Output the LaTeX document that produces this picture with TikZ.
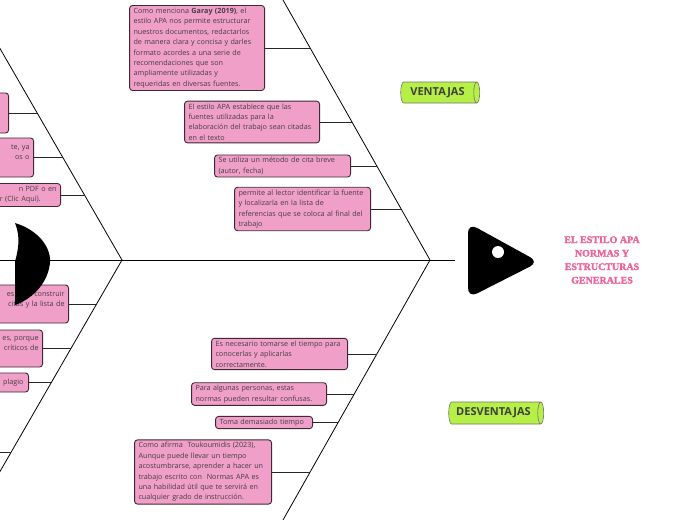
\documentclass[tikz,border=0pt]{standalone}
\usepackage{fontspec}
\setmainfont{Open Sans}
\newfontfamily\titlefont{Liberation Serif Bold}[FakeBold=2]
\usepackage{tikz}
\usetikzlibrary{shapes.geometric}

\definecolor{boxpink}{RGB}{240,160,200}
\definecolor{boxline}{RGB}{65,40,50}
\definecolor{limegreen}{RGB}{182,240,70}
\definecolor{titlepink}{RGB}{236,100,152}
\definecolor{txtgray}{RGB}{70,60,65}

\tikzset{
  idea/.style={draw=boxline, fill=boxpink, rounded corners=3pt, line width=0.9pt,
    align=left, text=txtgray, font=\fontsize{7.2}{10.4}\selectfont,
    inner xsep=4pt, inner ysep=2.5pt, anchor=east},
  bone/.style={line width=0.8pt},
  twig/.style={line width=0.9pt, black!85},
  tag/.style={cylinder, shape border rotate=0, aspect=0.35, draw=black!55,
    fill=limegreen, text=black!75, font=\bfseries\fontsize{11}{12}\selectfont,
    line width=0.6pt, inner xsep=3pt}
}

\begin{document}
\begin{tikzpicture}[x=1pt,y=-1pt]
\useasboundingbox (0,0) rectangle (697,520);
\clip (0,0) rectangle (697,520);

% spine and bones
\coordinate (vR) at (430,260);
\coordinate (tR) at (283,0);
\coordinate (bR) at (283,520);
\coordinate (vL) at (122,260);
\coordinate (tL) at (-28,0);
\coordinate (bL) at (-28,520);
\coordinate (tail) at (-5,260);
\coordinate (neck) at (455,260);
\draw[bone] (tail) -- (neck);
\draw[bone] (tR) -- (vR) -- (bR);
\draw[bone] (tL) -- (vL) -- (bL);

% head
\fill[rounded corners=10pt] (468,223) -- (539,262) -- (468,298) -- cycle;
\fill[white] (498,252) circle (6);
\node[font=\titlefont\fontsize{10}{13.5}\selectfont, text=titlepink,
  align=center] (title) at (602,260) {EL ESTILO APA\\NORMAS Y\\ESTRUCTURAS\\GENERALES};

\node[tag, minimum width=21pt, minimum height=79pt] (ven) at (437.5,92.5) {VENTAJAS};
\node[tag, minimum width=22pt, minimum height=95pt] (des) at (493.5,413) {DESVENTAJAS};

% ventajas
\node[idea, text width=127pt] (g1) at (265,48) {Como menciona \textbf{Garay (2019)}, el\\estilo APA nos permite estructurar\\nuestros documentos, redactarlos\\de manera clara y concisa y darles\\formato acordes a una serie de\\recomendaciones que son\\ampliamente utilizadas y\\requeridas en diversas fuentes.};
\node[idea, text width=127pt] (g2) at (320,122) {El estilo APA establece que las\\fuentes utilizadas para la\\elaboración del trabajo sean citadas\\en el texto};
\node[idea, text width=128pt] (g3) at (351,166) {Se utiliza un método de cita breve\\(autor, fecha)};
\node[idea, text width=128pt] (g4) at (371,209) {permite al lector identificar la fuente\\y localizarla en la lista de\\referencias que se coloca al final del\\trabajo};
\coordinate (p1) at (310.1,48);
\coordinate (p2) at (352.0,122);
\coordinate (p3) at (376.9,166);
\coordinate (p4) at (401.2,209);
\foreach \n in {1,2,3,4}
  \draw[twig] (g\n.east) -- (p\n);

% desventajas
\node[idea, text width=128pt] (d1) at (348,354) {Es necesario tomarse el tiempo para\\conocerlas y aplicarlas\\correctamente.};
\node[idea, text width=127pt] (d2) at (327,394) {Para algunas personas, estas\\normas pueden resultar confusas.};
\node[idea, text width=89pt] (d3) at (313,422.5) {Toma demasiado tiempo};
\node[idea, text width=129pt] (d4) at (272,472) {Como afirma \ Toukoumidis (2023),\\Aunque puede llevar un tiempo\\acostumbrarse, aprender a hacer un\\trabajo escrito con \ Normas APA es\\una habilidad útil que te servirá en\\cualquier grado de instrucción.};
\coordinate (q1) at (376.9,354);
\coordinate (q2) at (354.2,394);
\coordinate (q3) at (338.4,422.5);
\coordinate (q4) at (310.1,472);
\foreach \n in {1,2,3,4}
  \draw[twig] (d\n.east) -- (q\n);

% left fish (cut off)
\node[idea, text width=128pt, minimum height=40pt] (l1) at (9,113) {};
\node[idea, text width=128pt, align=right, minimum height=39pt] (l2) at (34,157.5) {te, ya\hspace*{1pt}\\os o\hspace*{4pt}\\\mbox{}};
\node[idea, text width=128pt, align=right, minimum height=23pt] (l3) at (61,195) {n PDF o en\hspace*{23pt}\\r (Clic Aquí).\hspace*{16pt}};
\node[idea, text width=128pt, align=right, minimum height=38pt] (l4) at (69,304) {es para construir\hspace*{8pt}\\citas y la lista de\hspace*{8pt}\\\mbox{}};
\node[idea, text width=128pt, align=right, minimum height=37pt] (l5) at (43,348.5) {es, porque\hspace*{5pt}\\críticos de\hspace*{5pt}\\\mbox{}};
\node[idea, text width=128pt, align=right, minimum height=19pt] (l6) at (29,382.5) {plagio\hspace*{1pt}};
\coordinate (r1) at (37.2,113);
\coordinate (r2) at (62.6,157.5);
\coordinate (r3) at (84.5,195);
\coordinate (r4) at (96.6,304);
\coordinate (r5) at (70.9,348.5);
\coordinate (r6) at (51.1,382.5);
\foreach \n in {1,...,6}
  \draw[twig] (l\n.east) -- (r\n);
\coordinate (l7) at (-5,452);
\coordinate (r7) at (11.2,452);
\draw[twig] (l7) -- (r7);

% left head piece
\fill (15,223) .. controls (38,230) and (51,247) .. (50,262)
  .. controls (49,280) and (35,298) .. (15,305) -- (15,262)
  .. controls (18,250) and (21,238) .. (15,223) -- cycle;

\end{tikzpicture}
\end{document}
